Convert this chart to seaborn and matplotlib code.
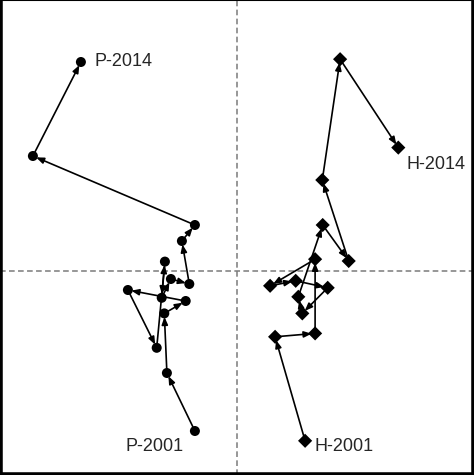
import matplotlib
matplotlib.use("Agg")
import matplotlib.pyplot as plt
import seaborn as sns
import pandas as pd

# ordination scores per year, 2001 -> 2014
years = list(range(2001, 2015))

p_axis1 = [-0.212, -0.352, -0.365, -0.258, -0.547, -0.403, -0.362,
           -0.378, -0.332, -0.240, -0.277, -0.212, -1.022, -0.782]
p_axis2 = [-0.800, -0.510, -0.212, -0.150, -0.095, -0.384, 0.047,
           -0.134, -0.040, -0.065, 0.150, 0.230, 0.575, 1.045]

h_axis1 = [0.339, 0.189, 0.389, 0.389, 0.164, 0.292, 0.452,
           0.325, 0.305, 0.427, 0.557, 0.425, 0.514, 0.805]
h_axis2 = [-0.849, -0.329, -0.312, 0.059, -0.074, -0.049, -0.084,
           -0.212, -0.129, 0.230, 0.050, 0.455, 1.059, 0.617]

df = pd.concat([
    pd.DataFrame({"year": years, "x": p_axis1, "y": p_axis2, "site": "P"}),
    pd.DataFrame({"year": years, "x": h_axis1, "y": h_axis2, "site": "H"}),
])

sns.set_style("white")
plt.rcParams["font.family"] = ["Liberation Sans", "DejaVu Sans"]

fig = plt.figure(figsize=(4.74, 4.75), dpi=100)
ax = fig.add_axes([0, 0, 1, 1])

# reference lines through the origin
ax.axhline(0, color="#7a7a7a", lw=1.1, ls=(0, (3.7, 2.2)), zorder=1)
ax.axvline(0, color="#7a7a7a", lw=1.1, ls=(0, (3.7, 2.2)), zorder=1)

# arrows between consecutive years
for site in ["P", "H"]:
    sub = df[df["site"] == site].sort_values("year")
    xs, ys = sub["x"].tolist(), sub["y"].tolist()
    for i in range(len(xs) - 1):
        ax.annotate("", xy=(xs[i + 1], ys[i + 1]), xytext=(xs[i], ys[i]),
                    arrowprops=dict(arrowstyle="-|>,head_length=0.45,head_width=0.18",
                                    color="black", lw=1.2,
                                    shrinkA=0, shrinkB=2.5),
                    zorder=2)

sns.scatterplot(data=df, x="x", y="y", style="site",
                markers={"P": "o", "H": "D"}, color="black",
                s=52, edgecolor="black", linewidth=0, legend=False,
                ax=ax, zorder=3)

# end-point labels
first, last = years[0], years[-1]
labels = [
    ("P", last, "P-2014", (10, 0), "left", "center"),
    ("H", last, "H-2014", (6, -12), "left", "center"),
    ("P", first, "P-2001", (-8, -11), "right", "center"),
    ("H", first, "H-2001", (7, -4), "left", "center"),
]
for site, yr, txt, off, ha, va in labels:
    row = df[(df["site"] == site) & (df["year"] == yr)].iloc[0]
    ax.annotate(txt, xy=(row["x"], row["y"]), xytext=off,
                textcoords="offset points", ha=ha, va=va, fontsize=13)

ax.set_xlim(-1.1865, 1.1835)
ax.set_ylim(-1.02, 1.355)
ax.set_xticks([])
ax.set_yticks([])
ax.set_xlabel("")
ax.set_ylabel("")
for name, sp in ax.spines.items():
    sp.set_visible(True)
    sp.set_color("black")
    sp.set_linewidth(1.5 if name == "top" else 4)

fig.savefig("out.png", dpi=100)
